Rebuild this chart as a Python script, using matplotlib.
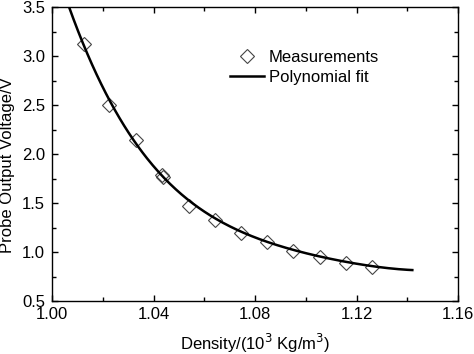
import numpy as np
import matplotlib.pyplot as plt

plt.rcParams['font.family'] = ['Liberation Sans', 'DejaVu Sans']

density = [1.0126, 1.0226, 1.0332, 1.0433, 1.0437, 1.0539, 1.0644,
           1.0745, 1.0846, 1.0951, 1.1056, 1.1157, 1.1262]
voltage = [3.125, 2.497, 2.143, 1.786, 1.768, 1.472, 1.327,
           1.191, 1.099, 1.013, 0.945, 0.890, 0.849]

# points along the drawn fit curve
curve_x = [1.0067, 1.0123, 1.0229, 1.0334, 1.0432, 1.0537, 1.0642,
           1.0748, 1.0848, 1.0951, 1.1056, 1.1161, 1.1260, 1.1420]
curve_y = [3.500, 3.136, 2.497, 2.143, 1.768, 1.531, 1.334,
           1.207, 1.105, 1.028, 0.952, 0.895, 0.857, 0.816]

x_ticks = [1.00, 1.04, 1.08, 1.12, 1.16]
y_ticks = [0.5, 1.0, 1.5, 2.0, 2.5, 3.0, 3.5]

coef = np.polyfit(curve_x, curve_y, 5)
xf = np.linspace(curve_x[0], curve_x[-1], 300)
yf = np.polyval(coef, xf)

fig = plt.figure(figsize=(4.74, 3.54), dpi=100)
ax = fig.add_axes([52/474, 1 - 301/354, 406/474, 294/354])

ax.plot(density, voltage, 'D', markersize=7, markerfacecolor='none',
        markeredgecolor='#444444', markeredgewidth=0.8, label='Measurements')
ax.plot(xf, yf, '-', color='black', linewidth=1.8, label='Polynomial fit')

ax.set_xlim(1.00, 1.16)
ax.set_ylim(0.5, 3.5)
ax.set_xticks(x_ticks)
ax.set_xticklabels(['%.2f' % v for v in x_ticks])
ax.set_yticks(y_ticks)
ax.set_yticklabels(['%.1f' % v for v in y_ticks])
ax.set_xticks(np.arange(1.02, 1.16, 0.04), minor=True)
ax.set_yticks(np.arange(0.75, 3.5, 0.5), minor=True)
ax.tick_params(which='both', direction='in', top=True, right=True,
               labelsize=12, width=1)
ax.tick_params(which='major', length=4)
ax.tick_params(which='minor', length=3)
ax.tick_params(axis='x', pad=4)
ax.tick_params(axis='y', pad=5)
for s in ax.spines.values():
    s.set_linewidth(1)

ax.set_xlabel('Density/(10$^3$ Kg/m$^3$)', fontsize=12)
ax.set_ylabel('Probe Output Voltage/V', fontsize=12)
ax.xaxis.set_label_coords(0.5, -0.105)
ax.yaxis.set_label_coords(-0.09, 0.463)

ax.legend(loc='upper left', bbox_to_anchor=(0.438, 0.855), frameon=False,
          fontsize=12, handlelength=2.05, handletextpad=0.3,
          labelspacing=0.3, borderpad=0, borderaxespad=0, markerscale=1.0)

fig.savefig('out.png', dpi=100)
